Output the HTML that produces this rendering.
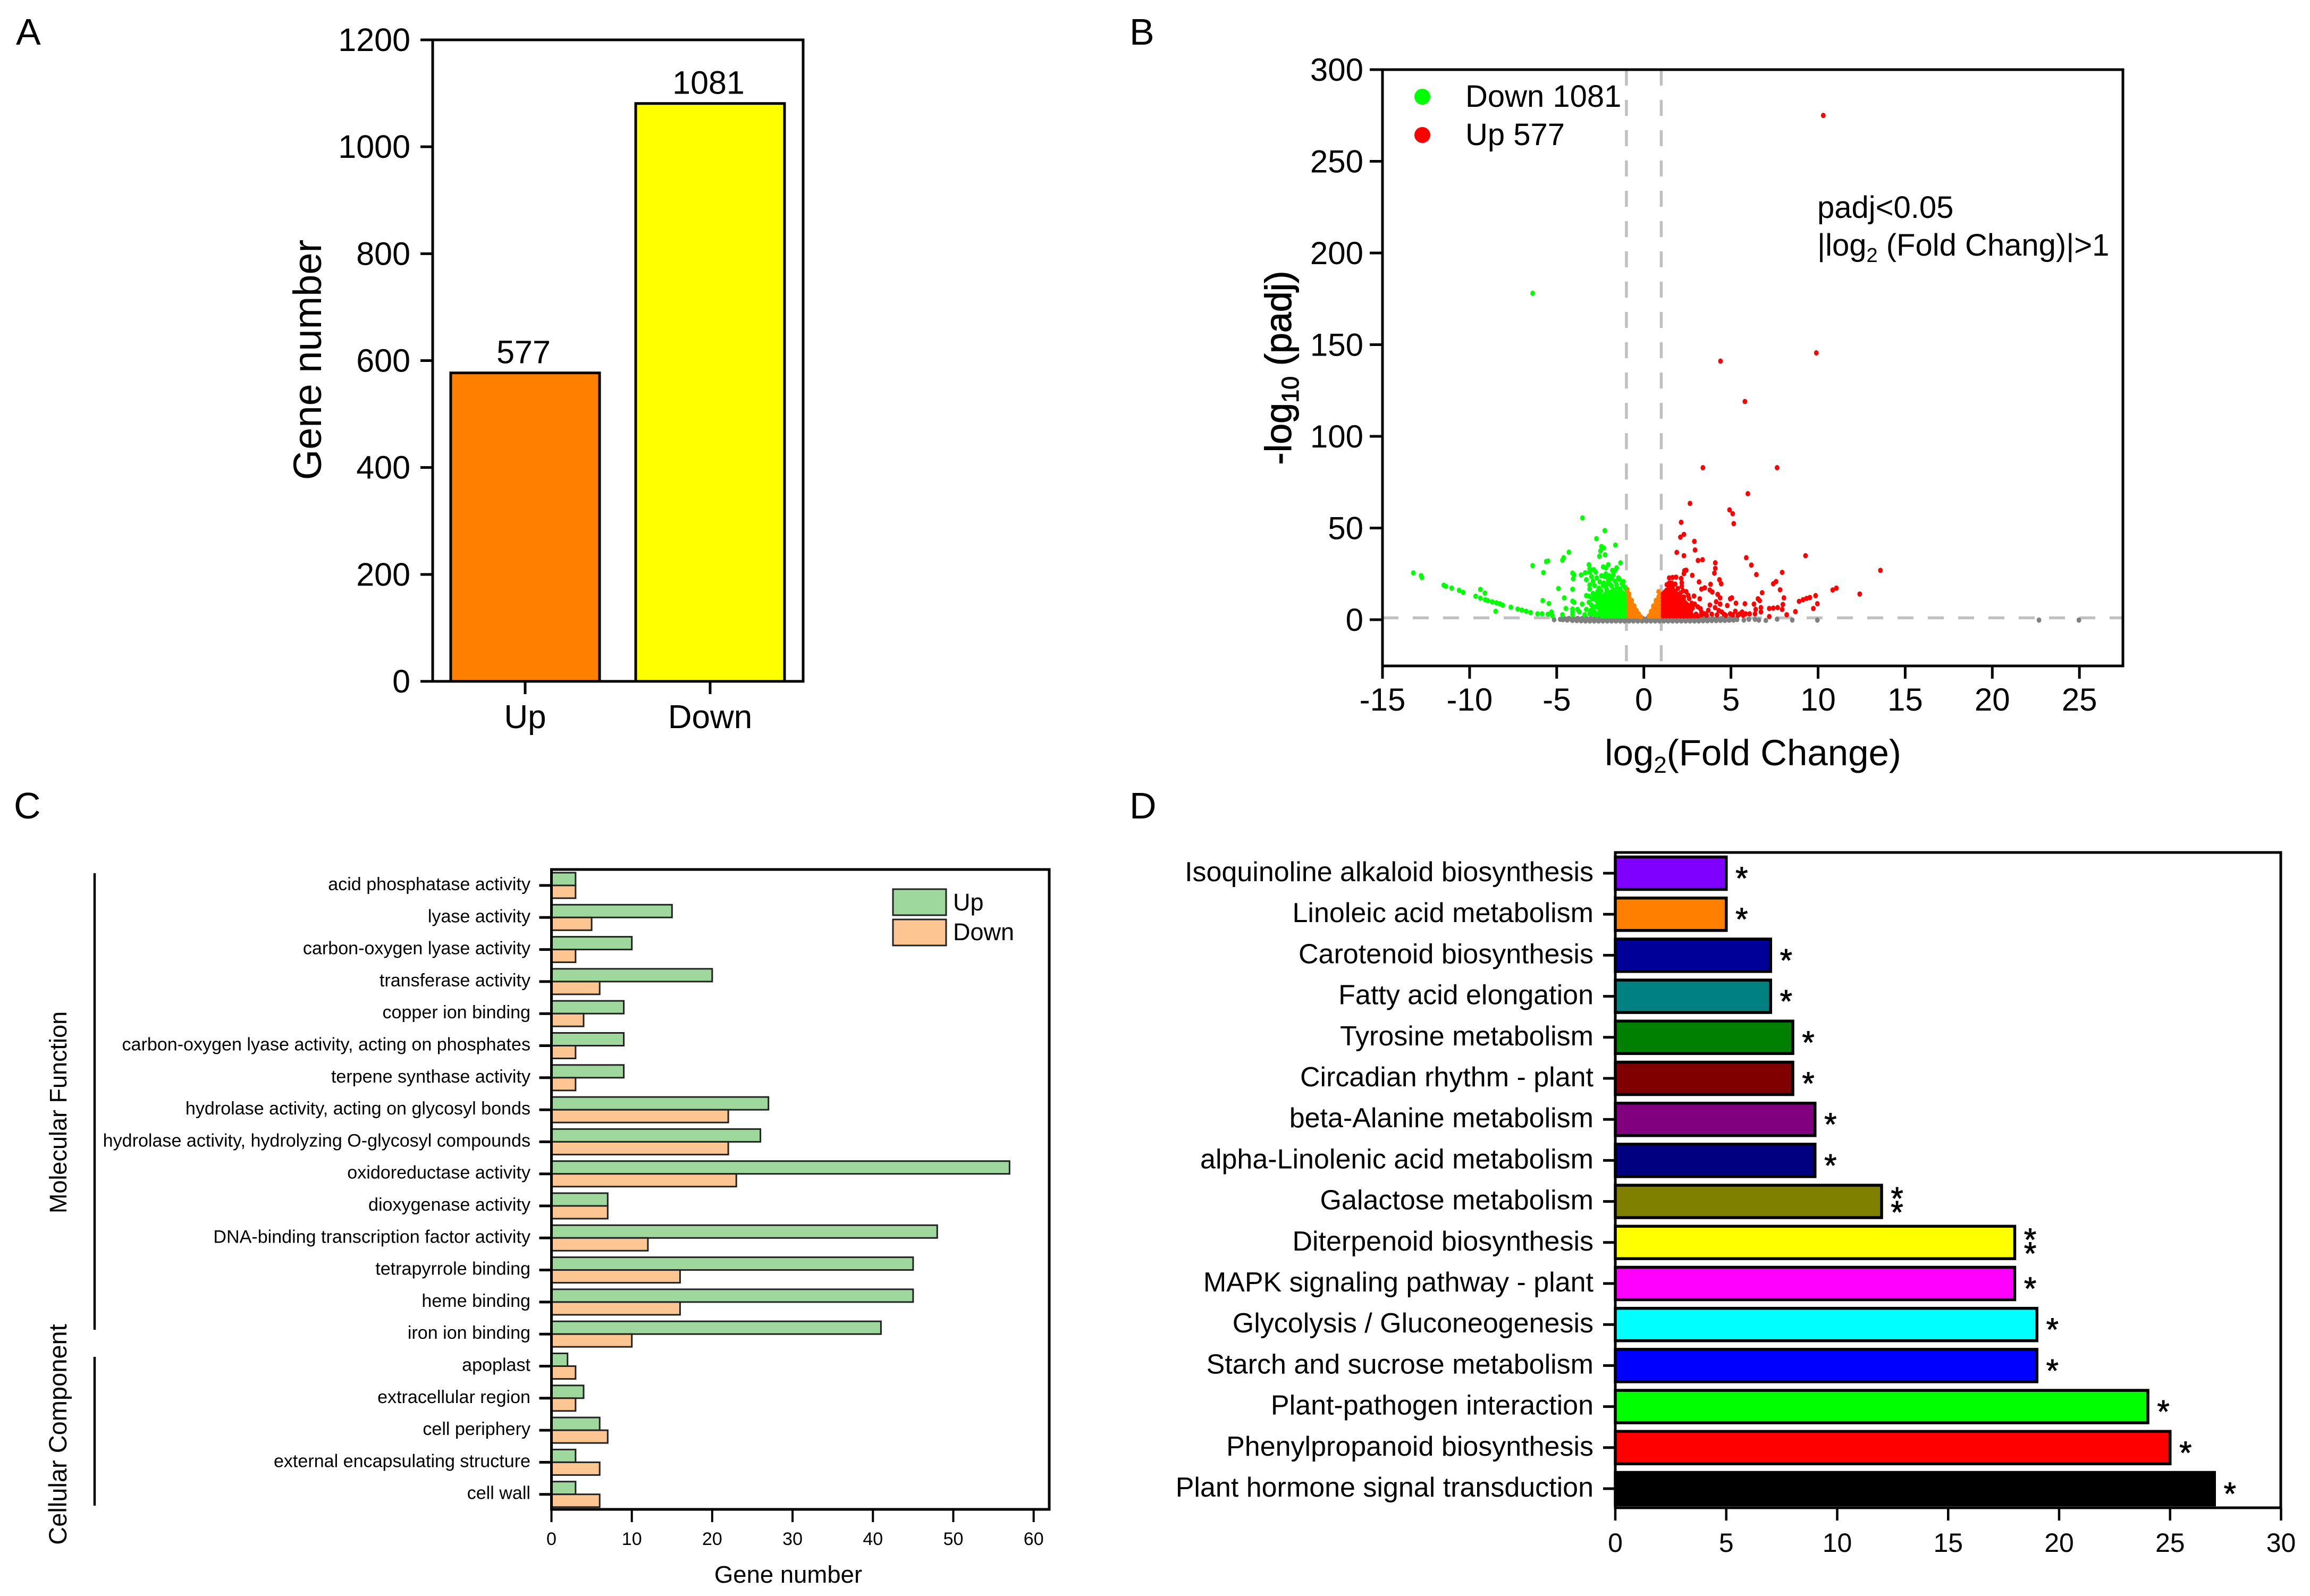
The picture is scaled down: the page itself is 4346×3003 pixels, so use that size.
<!DOCTYPE html>
<html lang="en">
<head>
<meta charset="utf-8">
<title>Gene expression figure</title>
<style>
html,body{margin:0;padding:0;background:#fff;}
svg{display:block;font-family:"Liberation Sans",sans-serif;fill:#000;}
</style>
</head>
<body>
<svg id="fig" xmlns="http://www.w3.org/2000/svg" width="4346" height="3003" viewBox="0 0 4346 3003">
<rect width="4346" height="3003" fill="#fff"/>
<text x="30" y="84" font-size="70">A</text>
<text x="2125" y="84" font-size="70">B</text>
<text x="26" y="1540" font-size="70">C</text>
<text x="2125" y="1540" font-size="70">D</text>

<g id="panelA">
<text transform="translate(604,677) rotate(-90)" text-anchor="middle" font-size="74">Gene number</text>
</g>

<g id="panelB">
<text transform="translate(2429,692) rotate(-90)" text-anchor="middle" font-size="70" stroke="#000" stroke-width="1">-log<tspan font-size="45" dy="14">10</tspan><tspan dy="-14"> (padj)</tspan></text>
<text x="3298" y="1440" text-anchor="middle" font-size="69">log<tspan font-size="44" dy="14">2</tspan><tspan dy="-14">(Fold Change)</tspan></text>
<circle cx="2676" cy="182" r="15" fill="#00ff00"/>
<circle cx="2676" cy="254" r="15" fill="#ff0000"/>
<text x="2757" y="201" font-size="58">Down 1081</text>
<text x="2757" y="273" font-size="58">Up 577</text>
<text x="3419" y="410" font-size="58">padj&lt;0.05</text>
<text x="3419" y="481" font-size="58">|log<tspan font-size="38" dy="12">2</tspan><tspan dy="-12"> (Fold Chang)|&gt;1</tspan></text>
</g>

<g id="panelC">
<line x1="178" y1="1643" x2="178" y2="2502" stroke="#000" stroke-width="4.5"/>
<line x1="178" y1="2553" x2="178" y2="2833" stroke="#000" stroke-width="4.5"/>
<text transform="translate(125,2093) rotate(-90)" text-anchor="middle" font-size="45">Molecular Function</text>
<text transform="translate(125,2699) rotate(-90)" text-anchor="middle" font-size="47">Cellular Component</text>
<text x="1483" y="2978" text-anchor="middle" font-size="45.5">Gene number</text>
<rect x="1680" y="1673" width="100" height="49" fill="#9fd89c" stroke="#222" stroke-width="3"/>
<rect x="1680" y="1730" width="100" height="49" fill="#fdc591" stroke="#222" stroke-width="3"/>
<text x="1793" y="1713" font-size="45">Up</text>
<text x="1793" y="1769" font-size="45">Down</text>
</g>

<g id="panelD"></g>
</svg>

<script>
/* ---------- Panel A data ---------- */
const aCategories = ['Up', 'Down'];
const aValues = [577, 1081];
const aColors = ['#ff8000', '#ffff00'];
const aTicks = [0, 200, 400, 600, 800, 1000, 1200];

/* ---------- Panel B data: [log2FC, -log10 padj] ---------- */
const bXTicks = [-15, -10, -5, 0, 5, 10, 15, 20, 25];
const bYTicks = [0, 50, 100, 150, 200, 250, 300];
const bThresholdX = [-1, 1];
const bThresholdY = [1];
const nsPoints = [[-5.15,0],[-4.8,.2],[-4.55,.5],[-4.3,.7],[-4.05,.6],[-3.8,.7],[-3.55,.6],[-3.3,.7],[-3.05,.6],[-2.8,.7],[-2.55,.6],[-2.3,.7],[-2.05,.6],[-1.8,.7],[-1.55,.6],[-1.3,.7],[-1.05,.6],[-.8,.7],[-.55,.6],[-.3,.7],[-.05,.6],[.2,.7],[.45,.6],[.7,.7],[.95,.6],[1.2,.7],[1.45,.6],[1.7,.7],[1.95,.6],[2.2,.7],[2.45,.6],[2.7,.7],[2.95,.6],[3.2,.7],[3.45,.6],[3.7,.7],[3.95,.6],[4.2,.7],[4.45,.6],[4.7,.7],[4.95,.6],[5.2,.6],
[-4.65,0],[-4.4,.1],[-4.15,0],[-3.9,.1],[-3.65,0],[-3.4,.1],[-3.15,0],[-2.9,.1],[-2.65,0],[-2.4,.1],[-2.15,0],[-1.9,.1],[-1.65,0],[-1.4,.1],[-1.15,0],[-.9,.1],[-.65,0],[-.4,.1],[-.15,0],[.1,.1],[.35,0],[.6,.1],[.85,0],[1.1,.1],[1.35,0],[1.6,.1],[1.85,0],[2.1,.1],[2.35,0],[2.6,.1],[2.85,0],[3.1,.1],[3.35,0],[3.6,.1],[3.85,0],[4.1,.1],[4.35,0],[4.6,.1],[4.85,0],[5.1,.1],
[-4.4,-.2],[-4.1,-.4],[-3.85,-.5],[-3.6,-.6],[-3.35,-.7],[-3.1,-.7],[-2.85,-.7],[-2.6,-.7],[-2.35,-.7],[-2.1,-.7],[-1.85,-.7],[-1.6,-.7],[-1.35,-.7],[-1.1,-.7],[-.85,-.7],[-.6,-.7],[-.35,-.7],[-.1,-.7],[.15,-.7],[.4,-.7],[.65,-.7],[.9,-.7],[1.15,-.7],[1.4,-.7],[1.65,-.7],[1.9,-.7],[2.15,-.7],[2.4,-.7],[2.65,-.7],[2.9,-.7],[3.15,-.7],[3.4,-.6],[3.65,-.6],[3.9,-.5],[4.15,-.5],[4.4,-.4],[4.65,-.4],[4.9,-.3],[5.15,-.2],[5.35,.1],
[5.74,-.2],[6.03,.2],[6.38,.2],[6.6,-.2],[7.0,-.4],[7.65,.3],[8.52,-.2],[9.96,-.2],[22.68,-.2],[24.97,-.2]];
const orangePoints = [[-1.02,2],[-1.02,3.5],[-1.02,5],[-1.02,6.5],[-1.02,8],[-1.02,9.5],[-1.02,11],[-1.02,12.5],[-1.02,14],[-.95,16.5],[-.95,15],[-.85,2],[-.85,3.5],[-.85,5],[-.85,6.5],[-.85,8],[-.85,9.5],[-.85,11],[-.85,12.5],[-.85,14],[-.7,2],[-.7,3.5],[-.7,5],[-.7,6.5],[-.7,8],[-.7,9.5],[-.7,10.5],[-.55,2],[-.55,3.5],[-.55,5],[-.55,6.5],[-.55,7.5],[-.42,2],[-.42,3.5],[-.42,5],[-.3,2],[-.3,3.2],[-.18,1.6],
[.95,2],[.95,3.5],[.95,5],[.95,6.5],[.95,8],[.95,9.5],[.95,11],[.95,12.5],[.95,13.5],[.85,15.3],[.85,2],[.85,3.5],[.85,5],[.85,6.5],[.85,8],[.85,9.5],[.85,11],[.85,12.5],[.7,2],[.7,3.5],[.7,5],[.7,6.5],[.7,8],[.7,9.5],[.7,10.5],[.55,2],[.55,3.5],[.55,5],[.55,6.5],[.55,7.5],[.42,2],[.42,3.5],[.42,4.5],[.3,2]];
const downPoints = [[-13.23,25.5],[-12.78,24],[-12.74,23],[-11.48,18.8],[-11.36,18.2],[-11.03,17.2],[-10.6,16],[-10.37,14.9],[-9.38,16.5],[-9.12,14.5],[-9.65,12.8],[-9.38,11.7],[-9.1,10.9],[-8.95,10.4],[-8.7,9.7],[-8.46,9.2],[-8.27,8.7],[-8.1,7.9],[-8.5,4.6],[-7.63,6.8],[-7.24,5.8],[-7,5.2],[-6.75,4.6],[-6.5,3.9],[-6.1,3.2],[-5.84,3.2],[-5.5,3],[-5.3,4.2],[-5.25,2.2],[-4.67,2.7],[-5.8,10.4],[-5.45,8.8],[-6.38,29.5],[-5.76,25.7],[-5.6,31.7],[-5.5,32],[-4.67,32.5],[-4.6,33.8],[-4.3,36.8],[-3.52,55.5],[-4.9,17],[-4.09,16.6],[-4.57,11.9],[-4.09,10.1],[-4,9.5],[-3.54,8.5],[-4.47,6.1],[-4.09,5.8],[-4.09,4.2],[-3.8,5.6],[-3.7,4.2],[-6.38,178],
[-2.24,48.6],[-2.72,44.2],[-1.63,40.7],[-2.43,39.9],[-2.3,39.1],[-2.49,37.5],[-2.22,35.4],[-2.55,34.6],[-1.34,31],[-3.15,30],[-2.04,30],[-2.33,28.8],[-2.18,28.3],[-1.56,28.3],[-4.09,25.4],[-4,24.4],[-4.05,22.3],[-3.6,24.4],[-3.36,25.6],[-3.11,27.8],[-2.88,27.3],[-2.76,25.9],[-3.11,25.9],[-1.81,26.9],[-1.65,26.9],[-2.18,25],[-1.75,24.4],[-2.24,23.5],[-3.3,21.8],[-2.92,21],[-2.53,20.6],[-2.04,21.5],[-1.46,22.8],[-1.17,20.8],[-3.11,16.7],[-2.57,17.2],
[-3,23.5],[-2.7,22.8],[-2.43,24],[-2,24],[-1.85,22.5],[-1.65,21],[-1.4,22],[-1.26,19.6],[-1.07,17.2],[-1.56,19.1],[-1.95,19.6],[-2.33,18.6],[-2.82,18.6],[-3.11,19],[-2.63,15.7],[-2.14,16.7],[-1.75,16.2],[-1.36,16.7],[-2.92,14.3],[-3.3,13.1],[-3.15,12.8],[-2.53,13.8],[-2.82,11.9],[-2.72,10.4],[-3.15,9.5],[-3,8],[-3.3,5.6],[-2.92,6.6],[-2.63,8.5],[-2.53,4.6],[-2.82,4.2],[-3.11,3.2],[-3.4,2.7],[-4.09,2.7],[-2.7,2.4],
[-2.3,20],[-2.15,19],[-1.85,18.4],[-1.55,17.5],[-1.2,18.8],[-2.45,15.6],[-2.6,12],[-2.75,14],[-2.95,11.4],[-2.55,10],[-2.6,6.6],[-2.75,7.2],[-3.05,5],[-2.95,3.1],[-2.6,3],
[-2.4,2],[-2.4,4.2],[-2.4,6.1],[-2.4,8.2],[-2.4,10.1],[-2.4,12.2],[-2.2,2],[-2.2,4],[-2.2,6],[-2.2,8],[-2.2,10],[-2.2,12],[-2.2,14],[-2,2],[-2,4.1],[-2,6.1],[-2,8.1],[-2,10.1],[-2,12.1],[-2,14.2],[-1.8,2],[-1.8,4],[-1.8,6],[-1.8,8],[-1.8,10],[-1.8,12],[-1.8,14],[-1.6,2],[-1.6,4],[-1.6,6],[-1.6,8],[-1.6,10],[-1.6,12],[-1.6,14],[-1.4,2],[-1.4,4],[-1.4,6],[-1.4,8],[-1.4,10],[-1.4,12],[-1.4,14],[-1.2,2],[-1.2,4],[-1.2,6],[-1.2,8],[-1.2,10],[-1.2,12],[-1.2,14.5],
[-2.3,3],[-2.3,5],[-2.3,7],[-2.3,9],[-2.3,11],[-2.3,13],[-2.1,3],[-2.1,5],[-2.1,7],[-2.1,9],[-2.1,11],[-2.1,13],[-2.1,15],[-1.9,3],[-1.9,5],[-1.9,7],[-1.9,9],[-1.9,11],[-1.9,13],[-1.9,15],[-1.7,3],[-1.7,5],[-1.7,7],[-1.7,9],[-1.7,11],[-1.7,13],[-1.7,15],[-1.5,3],[-1.5,5],[-1.5,7],[-1.5,9],[-1.5,11],[-1.5,13],[-1.5,15],[-1.3,3],[-1.3,5],[-1.3,7],[-1.3,9],[-1.3,11],[-1.3,13],[-1.3,15],[-1.1,2],[-1.1,4],[-1.1,6],[-1.1,8],[-1.1,10],[-1.1,12],[-1.1,14]];
const upPoints = [[10.3,275],[9.9,145.5],[4.4,141],[5.8,119],[3.39,82.9],[7.65,82.9],[5.97,68.7],[2.65,63.4],[4.92,59.9],[5.1,57.8],[5.16,52.4],[2.14,53.1],[2.3,46.5],[2.1,45],[2.9,42.7],[2.94,38],[1.89,36.7],[2.3,34.9],[5.88,33.8],[9.28,34.9],[13.58,26.9],[3.11,32.3],[3.37,32.7],[4.1,31],[4.1,28],[4.05,25.4],[6.17,29.8],[6.46,24.6],[7.94,25.8],[2.33,26.7],[2.43,27],[2.3,25.1],[2.78,24.2],[1.46,22.8],[1.65,23],[1.85,23.2],[2.14,22.5],[3.17,20.6],[3.83,19.3],[4.34,21.8],[4.44,19.6],[7.59,20.8],[7.43,19.6],[2.18,20.1],[1.46,20],[1.32,19.1],[1.65,18.2],[2.18,18.2],[2.43,15.3],[3.31,16.7],[3.5,17.4],[3.79,16.2],[3.93,15.1],[4.24,13.8],[4.38,11.9],[3.21,11.4],[2.88,12.9],[4.96,11.4],[5.05,11.9],[5.29,9],[5.8,8.7],[6.32,8.5],[6.55,11.4],[6.65,10.4],[6.79,14.7],[7.82,16.3],[8.04,11.9],[7.98,8.3],[7.94,5.6],[7.2,6.1],[7.43,6.3],[7.68,6.6],[6.72,6.6],[6.42,5.6],[6.38,3.2],[6.72,4.2],[7.2,1.7],[8.2,2.7],[8.7,4.4],[8.91,10],[9.14,10.9],[9.34,11.6],[9.53,12.1],[9.86,13.1],[9.73,6.1],[9.96,8.7],[10.84,16.2],[11.05,17.2],[12.39,14],[5.25,4.6],[5.64,4.2],[5.84,3.2],[6.07,3.2],[4.96,3.2],[4.47,4.2],[4.79,7.7],[3.79,8],[4.09,6.6],[4.38,8.5],[2.92,8.5],[3.31,4.2],[3.7,5.1],[2.7,5],[3,3],[3.9,3],[4.2,2.6],[4.7,2.4],[5.4,2.4],[5.5,3.1],
[1.6,20],[1.8,19.4],[1.45,17.6],[1.95,17],[2.25,15.8],[2.6,11.5],[2.75,9],[2.55,13.3],[3.1,7],[3.25,6],[3.5,3.2],[4.15,9.8],[4.3,5],[4.6,3],[3.6,2.4],[3.3,2.6],[5.1,2.6],[5.7,2.4],
[1.1,2],[1.1,4],[1.1,6],[1.1,8],[1.1,10],[1.1,12],[1.1,14],[1.3,2],[1.3,4],[1.3,6],[1.3,8],[1.3,10],[1.3,12],[1.3,14],[1.3,16],[1.5,2],[1.5,4],[1.5,6],[1.5,8],[1.5,10],[1.5,12],[1.5,14],[1.5,16.4],[1.7,2],[1.7,4],[1.7,6],[1.7,8],[1.7,10],[1.7,12],[1.7,14],[1.7,16],[1.9,2],[1.9,4],[1.9,6],[1.9,8],[1.9,10],[1.9,12],[1.9,14],[2.1,2],[2.1,4],[2.1,6],[2.1,8],[2.1,10],[2.1,12],[2.1,14.5],[2.3,2],[2.3,4],[2.3,6],[2.3,8],[2.3,10.2],[2.3,12.4],[2.5,2],[2.5,4],[2.5,6.1],[2.5,8],[2.7,2],[2.7,3.6],[2.9,2.1],[3.1,2],[2.8,6.4],
[1.2,3],[1.2,5],[1.2,7],[1.2,9],[1.2,11],[1.2,13],[1.2,15],[1.4,3],[1.4,5],[1.4,7],[1.4,9],[1.4,11],[1.4,13],[1.4,15],[1.6,3],[1.6,5],[1.6,7],[1.6,9],[1.6,11],[1.6,13],[1.6,15],[1.8,3],[1.8,5],[1.8,7],[1.8,9],[1.8,11],[1.8,13],[1.8,15],[2,3],[2,5],[2,7],[2,9],[2,11],[2,13],[2.2,3],[2.2,5],[2.2,7],[2.2,9],[2.2,11],[2.4,3],[2.4,5],[2.4,7],[2.4,9],[2.6,3],[2.6,5],[2.6,7]];

/* ---------- Panel C data ---------- */
const cCategories = ['acid phosphatase activity','lyase activity','carbon-oxygen lyase activity','transferase activity','copper ion binding','carbon-oxygen lyase activity, acting on phosphates','terpene synthase activity','hydrolase activity, acting on glycosyl bonds','hydrolase activity, hydrolyzing O-glycosyl compounds','oxidoreductase activity','dioxygenase activity','DNA-binding transcription factor activity','tetrapyrrole binding','heme binding','iron ion binding','apoplast','extracellular region','cell periphery','external encapsulating structure','cell wall'];
const cUp = [3,15,10,20,9,9,9,27,26,57,7,48,45,45,41,2,4,6,3,3];
const cDown = [3,5,3,6,4,3,3,22,22,23,7,12,16,16,10,3,3,7,6,6];
const cTicks = [0,10,20,30,40,50,60];

/* ---------- Panel D data ---------- */
const dCategories = ['Isoquinoline alkaloid biosynthesis','Linoleic acid metabolism','Carotenoid biosynthesis','Fatty acid elongation','Tyrosine metabolism','Circadian rhythm - plant','beta-Alanine metabolism','alpha-Linolenic acid metabolism','Galactose metabolism','Diterpenoid biosynthesis','MAPK signaling pathway - plant','Glycolysis / Gluconeogenesis','Starch and sucrose metabolism','Plant-pathogen interaction','Phenylpropanoid biosynthesis','Plant hormone signal transduction'];
const dValues = [5,5,7,7,8,8,9,9,12,18,18,19,19,24,25,27];
const dStars = [1,1,1,1,1,1,1,1,2,2,1,1,1,1,1,1];
const dColors = ['#8000ff','#ff8000','#000099','#008080','#008000','#800000','#800080','#000080','#808000','#ffff00','#ff00ff','#00ffff','#0000ff','#00ff00','#ff0000','#000000'];
const dTicks = [0,5,10,15,20,25,30];

const NS = 'http://www.w3.org/2000/svg';
function mk(parent, tag, attrs, text) {
  const e = document.createElementNS(NS, tag);
  for (const k in attrs) e.setAttribute(k, attrs[k]);
  if (text !== undefined) e.textContent = text;
  parent.appendChild(e);
  return e;
}
function frame(parent, l, t, r, b, w) {
  const el = mk(parent, 'rect', {x:l, y:t, width:r-l, height:b-t, fill:'none', stroke:'#000', 'stroke-width':w});
  
  
  return el;
}

/* ---------- Panel A ---------- */
(function () {
  const g = document.getElementById('panelA');
  const L = 814, R = 1511, T = 75, B = 1282;
  const y = v => B - v / 1200 * (B - T);
  const xCenters = i => 988 + i * 348;
  const halfW = 140;
  aValues.forEach((v, i) => {
    const bar = mk(g, 'rect', {x:xCenters(i)-halfW, y:y(v), width:halfW*2, height:B-y(v), fill:aColors[i], stroke:'#000', 'stroke-width':5});
    
    
    const val = mk(g, 'text', {x:xCenters(i)-3, y:y(v)-18, 'text-anchor':'middle', 'font-size':61}, String(v));
    
    
    const tk = mk(g, 'line', {x1:xCenters(i), x2:xCenters(i), y1:B, y2:B+24, stroke:'#000', 'stroke-width':5});
    
    
    const lb = mk(g, 'text', {x:xCenters(i), y:B+88, 'text-anchor':'middle', 'font-size':62}, aCategories[i]);
    
    
  });
  frame(g, L, T, R, B, 5);
  aTicks.forEach(v => {
    const tk = mk(g, 'line', {x1:L-23, x2:L, y1:y(v), y2:y(v), stroke:'#000', 'stroke-width':5});
    
    
    const lb = mk(g, 'text', {x:772, y:y(v)+21, 'text-anchor':'end', 'font-size':61}, String(v));
    
    
  });
})();

/* ---------- Panel B ---------- */
(function () {
  const g = document.getElementById('panelB');
  const L = 2601, R = 3994, T = 131, B = 1253;
  const x = v => L + (v + 15) * 32.78;
  const y = v => 1166 - v * 3.45;
  bThresholdX.forEach(v => {
    const el = mk(g, 'line', {x1:x(v), x2:x(v), y1:T, y2:B, stroke:'#c0c0c0', 'stroke-width':5.5, 'stroke-dasharray':'30 27'});
    
    
  });
  bThresholdY.forEach(v => {
    const el = mk(g, 'line', {x1:L, x2:R, y1:y(v), y2:y(v), stroke:'#c0c0c0', 'stroke-width':5.5, 'stroke-dasharray':'30 27'});
    
    
  });
  const series = [[nsPoints,'#808080','point-not-significant'],[orangePoints,'#ff8000','point-low-fold-change'],[downPoints,'#00ff00','point-down'],[upPoints,'#ff0000','point-up']];
  series.forEach(s => {
    s[0].forEach(p => {
      const el = mk(g, 'ellipse', {cx:x(p[0]), cy:y(p[1]), rx:4.4, ry:5, fill:s[1]});
      
      
    });
  });
  frame(g, L, T, R, B, 5);
  bXTicks.forEach(v => {
    const tk = mk(g, 'line', {x1:x(v), x2:x(v), y1:B, y2:B+24, stroke:'#000', 'stroke-width':5});
    
    
    const lb = mk(g, 'text', {x:x(v), y:1337, 'text-anchor':'middle', 'font-size':60}, String(v));
    
    
  });
  bYTicks.forEach(v => {
    const tk = mk(g, 'line', {x1:L-24, x2:L, y1:y(v), y2:y(v), stroke:'#000', 'stroke-width':5});
    
    
    const lb = mk(g, 'text', {x:2565, y:y(v)+21, 'text-anchor':'end', 'font-size':60}, String(v));
    
    
  });
})();

/* ---------- Panel C ---------- */
(function () {
  const g = document.getElementById('panelC');
  const L = 1037.5, R = 1974, T = 1636, B = 2840;
  const x = v => L + v * 15.12;
  const y = i => 1666 + i * 60.3;
  cCategories.forEach((c, i) => {
    const u = mk(g, 'rect', {x:L, y:y(i)-24, width:x(cUp[i])-L, height:24, fill:'#9fd89c', stroke:'#222', 'stroke-width':3});
    
    
    const d = mk(g, 'rect', {x:L, y:y(i), width:x(cDown[i])-L, height:24, fill:'#fdc591', stroke:'#222', 'stroke-width':3});
    
    
    const tk = mk(g, 'line', {x1:L-23, x2:L, y1:y(i), y2:y(i), stroke:'#000', 'stroke-width':5});
    
    
    const lb = mk(g, 'text', {x:998, y:y(i)+9, 'text-anchor':'end', 'font-size':34.1}, c);
    
    
  });
  frame(g, L, T, R, B, 5);
  cTicks.forEach(v => {
    const tk = mk(g, 'line', {x1:x(v), x2:x(v), y1:B, y2:B+24, stroke:'#000', 'stroke-width':4});
    
    
    const lb = mk(g, 'text', {x:x(v), y:2907, 'text-anchor':'middle', 'font-size':34}, String(v));
    
    
  });
})();

/* ---------- Panel D ---------- */
(function () {
  const g = document.getElementById('panelD');
  const L = 3039, R = 4291, T = 1604, B = 2837;
  const x = v => L + v * 41.75;
  const y = i => 1643 + i * 77.2;
  const fr = frame(g, L, T, R, B, 5);
  
  dCategories.forEach((c, i) => {
    const bar = mk(g, 'rect', {x:L, y:y(i)-30.5, width:x(dValues[i])-L, height:61, fill:dColors[i], stroke:'#000', 'stroke-width':5.5});
    
    
    const tk = mk(g, 'line', {x1:L-23, x2:L, y1:y(i), y2:y(i), stroke:'#000', 'stroke-width':5});
    
    
    const lb = mk(g, 'text', {x:2998, y:y(i)+15, 'text-anchor':'end', 'font-size':52}, c);
    
    
    for (let s = 0; s < dStars[i]; s++) {
      const sy = dStars[i] === 1 ? y(i) + 2 : y(i) - 13 + s * 26;
      const st = mk(g, 'text', {x:x(dValues[i]) + 29, y:sy + 28, 'text-anchor':'middle', 'font-size':60, stroke:'#000', 'stroke-width':1}, '*');
      
      
    }
  });
  dTicks.forEach(v => {
    const tk = mk(g, 'line', {x1:x(v), x2:x(v), y1:B, y2:B+24, stroke:'#000', 'stroke-width':4.5});
    
    
    const lb = mk(g, 'text', {x:x(v), y:2920, 'text-anchor':'middle', 'font-size':50}, String(v));
    
    
  });
})();
</script>
</body>
</html>
